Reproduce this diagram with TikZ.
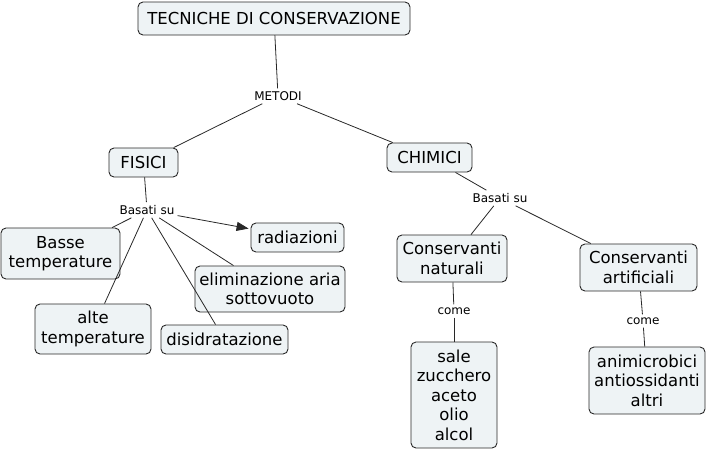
\documentclass[tikz,border=0pt]{standalone}
\usepackage{fontspec}
\setmainfont{DejaVu Sans}
\usetikzlibrary{arrows.meta}
\definecolor{boxfill}{RGB}{238,243,245}
\definecolor{edge}{RGB}{40,40,40}
\tikzset{
  box/.style={draw=edge, line width=0.9pt, fill=boxfill, rounded corners=5pt, align=center,
    inner sep=0pt, font=\fontsize{16.5}{19.5}\selectfont},
  lbl/.style={inner sep=3pt, font=\fontsize{12}{13}\selectfont},
  conn/.style={draw=edge, line width=0.8pt},
  arr/.style={conn, -{Triangle[length=12pt,width=9pt]}, shorten >=2pt}
}
\begin{document}
\begin{tikzpicture}[x=1pt,y=-1pt]
\useasboundingbox (0,0) rectangle (709,451);
\node[box, minimum width=272, minimum height=33] (root) at (274,18.5) {TECNICHE DI CONSERVAZIONE};
\node[lbl] (metodi) at (278,96) {METODI};
\node[box, minimum width=69, minimum height=29] (fisici) at (143.5,162.5) {FISICI};
\node[box, minimum width=85, minimum height=29] (chimici) at (429.5,157.5) {CHIMICI};
\node[lbl] (bas1) at (147,210) {Basati su};
\node[box, minimum width=93, minimum height=29] (rad) at (297.5,237.5) {radiazioni};
\node[box, minimum width=119, minimum height=51] (basse) at (60.5,253.5) {Basse\\temperature};
\node[box, minimum width=150, minimum height=46] (elim) at (270,289) {eliminazione aria\\sottovuoto};
\node[box, minimum width=116, minimum height=50] (alte) at (93,329) {alte\\temperature};
\node[box, minimum width=127, minimum height=29] (disi) at (224.5,339.5) {disidratazione};
\node[lbl] (bas2) at (500,198) {Basati su};
\node[box, minimum width=110, minimum height=47] (nat) at (452,258.5) {Conservanti\\naturali};
\node[box, minimum width=117, minimum height=47] (art) at (638.5,267.5) {Conservanti\\artificiali};
\node[lbl] (come1) at (454,311) {come};
\node[lbl] (come2) at (643,321) {come};
\node[box, minimum width=86, minimum height=106] (sale) at (454,395) {sale\\zucchero\\aceto\\olio\\alcol};
\node[box, minimum width=116, minimum height=67] (anti) at (647,380.5) {animicrobici\\antiossidanti\\altri};

\draw[conn] (root) -- (metodi);
\draw[conn] (metodi) -- (fisici);
\draw[conn] (metodi) -- (chimici);
\draw[conn] (fisici) -- (bas1);
\draw[conn] (bas1) -- (basse);
\draw[conn] (bas1) -- (alte);
\draw[conn] (bas1) -- (disi);
\draw[conn] (bas1) -- (elim);
\draw[arr] (bas1) -- (rad);
\draw[conn] (chimici) -- (bas2);
\draw[conn] (bas2) -- (nat);
\draw[conn] (bas2) -- (art);
\draw[conn] (nat) -- (come1);
\draw[conn] (come1) -- (sale);
\draw[conn] (art) -- (come2);
\draw[conn] (come2) -- (anti);
\end{tikzpicture}
\end{document}
